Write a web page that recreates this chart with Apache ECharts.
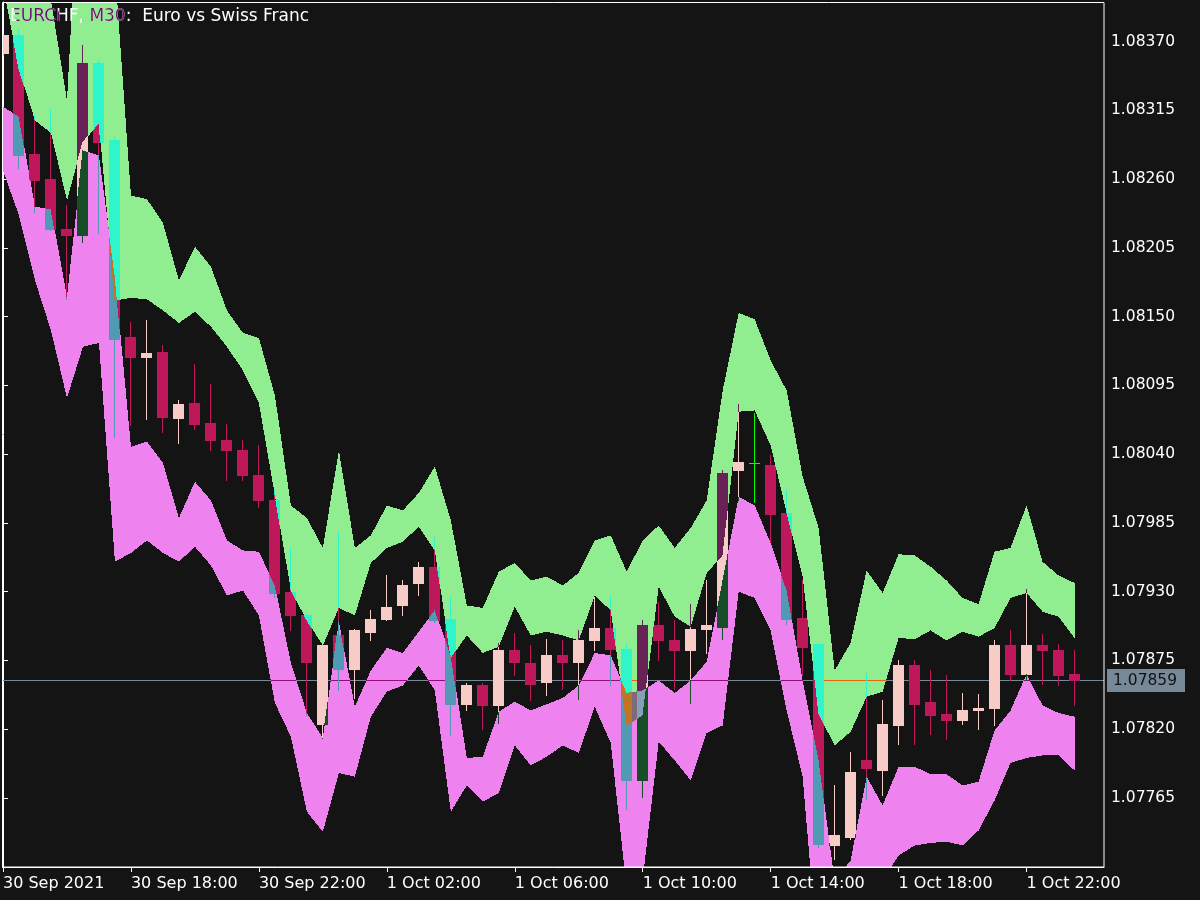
<!DOCTYPE html>
<html><head><meta charset="utf-8">
<script src="https://cdn.jsdelivr.net/npm/echarts/dist/echarts.min.js"></script>
<style>html,body{margin:0;padding:0;background:#141414}#c{width:1200px;height:900px}</style>
</head><body><div id="c"></div>
<script>
// ---- data ----
const titleText = 'EURCHF, M30:  Euro vs Swiss Franc';
const tickIndex = [0, 8, 16, 24, 32, 40, 48, 56, 64];
const tickLabels = ['30 Sep 2021','30 Sep 18:00','30 Sep 22:00','1 Oct 02:00','1 Oct 06:00','1 Oct 10:00','1 Oct 14:00','1 Oct 18:00','1 Oct 22:00'];
const priceTicks = [1.07765,1.07820,1.07875,1.07930,1.07985,1.08040,1.08095,1.08150,1.08205,1.08260,1.08315,1.08370];
const lastPrice = 1.07859;

const openP = [1.08361,1.08375,1.08280,1.08260,1.08220,1.08215,1.08353,1.08291,1.08134,1.08118,
 1.08122,1.08069,1.08081,1.08065,1.08051,1.08043,1.08023,1.08003,1.07930,1.07911,
 1.07824,1.07895,1.07868,1.07898,1.07908,1.07919,1.07937,1.07950,1.07908,1.07840,
 1.07855,1.07839,1.07883,1.07873,1.07858,1.07879,1.07874,1.07891,1.07901,1.07884,
 1.07779,1.07903,1.07891,1.07883,1.07900,1.07902,1.08027,1.08033,1.08031,1.07993,
 1.07909,1.07888,1.07727,1.07734,1.07795,1.07787,1.07823,1.07871,1.07842,1.07832,
 1.07827,1.07835,1.07837,1.07887,1.07864,1.07887,1.07883,1.07864];
const highP = [1.08376,1.08379,1.08311,1.08315,1.08239,1.08367,1.08355,1.08294,1.08146,1.08147,
 1.08127,1.08083,1.08112,1.08096,1.08064,1.08051,1.08047,1.08011,1.07966,1.07913,
 1.07887,1.07978,1.07900,1.07915,1.07943,1.07939,1.07954,1.07974,1.07926,1.07857,
 1.07857,1.07889,1.07897,1.07887,1.07892,1.07891,1.07899,1.07926,1.07927,1.07888,
 1.07907,1.07922,1.07907,1.07920,1.07939,1.08027,1.08080,1.08073,1.08039,1.08011,
 1.07939,1.07889,1.07775,1.07802,1.07865,1.07843,1.07875,1.07875,1.07867,1.07863,
 1.07849,1.07848,1.07891,1.07899,1.07932,1.07896,1.07888,1.07883];
const lowP = [1.08359,1.08269,1.08234,1.08219,1.08164,1.08210,1.08217,1.08054,1.08063,1.08068,
 1.08058,1.08049,1.08060,1.08043,1.08019,1.08019,1.07998,1.07926,1.07899,1.07831,
 1.07813,1.07851,1.07845,1.07891,1.07907,1.07911,1.07927,1.07906,1.07815,1.07835,
 1.07820,1.07825,1.07863,1.07843,1.07847,1.07852,1.07844,1.07883,1.07855,1.07756,
 1.07766,1.07875,1.07852,1.07841,1.07881,1.07892,1.08003,1.08002,1.07970,1.07904,
 1.07863,1.07726,1.07716,1.07732,1.07764,1.07767,1.07808,1.07808,1.07816,1.07812,
 1.07824,1.07820,1.07823,1.07859,1.07859,1.07856,1.07855,1.07839];
const closeP = [1.08375,1.08279,1.08259,1.08220,1.08215,1.08353,1.08290,1.08132,1.08118,1.08121,
 1.08070,1.08080,1.08064,1.08051,1.08043,1.08023,1.08003,1.07929,1.07911,1.07874,
 1.07887,1.07868,1.07899,1.07908,1.07918,1.07935,1.07950,1.07907,1.07840,1.07855,
 1.07839,1.07883,1.07874,1.07856,1.07879,1.07874,1.07891,1.07901,1.07884,1.07779,
 1.07903,1.07891,1.07883,1.07900,1.07903,1.08025,1.08034,1.08033,1.07992,1.07908,
 1.07886,1.07728,1.07735,1.07786,1.07789,1.07824,1.07871,1.07840,1.07831,1.07827,
 1.07835,1.07837,1.07887,1.07864,1.07887,1.07883,1.07863,1.07859];

// upper (green) band edges
const upperTop = [1.08459,1.08451,1.08435,1.08403,1.08323,1.08560,1.08499,1.08428,1.08247,1.08244,
 1.08225,1.08179,1.08206,1.08190,1.08155,1.08137,1.08133,1.08087,1.07999,1.07989,
 1.07965,1.08043,1.07965,1.07975,1.07999,1.07995,1.08009,1.08030,1.07987,1.07919,
 1.07917,1.07946,1.07953,1.07939,1.07942,1.07935,1.07945,1.07971,1.07975,1.07946,
 1.07971,1.07983,1.07965,1.07981,1.08003,1.08091,1.08153,1.08148,1.08115,1.08091,
 1.08022,1.07981,1.07867,1.07889,1.07947,1.07929,1.07960,1.07959,1.07950,1.07939,
 1.07925,1.07920,1.07962,1.07965,1.07999,1.07954,1.07943,1.07937];
const upperBot = [1.08415,1.08348,1.08307,1.08297,1.08243,1.08290,1.08304,1.08163,1.08165,1.08164,
 1.08155,1.08145,1.08154,1.08142,1.08126,1.08107,1.08081,1.08007,1.07931,1.07907,
 1.07887,1.07917,1.07911,1.07953,1.07965,1.07970,1.07982,1.07963,1.07877,1.07895,
 1.07881,1.07886,1.07918,1.07895,1.07898,1.07895,1.07891,1.07927,1.07915,1.07823,
 1.07831,1.07934,1.07910,1.07902,1.07945,1.07959,1.08074,1.08075,1.08047,1.07993,
 1.07942,1.07832,1.07807,1.07818,1.07846,1.07850,1.07893,1.07892,1.07899,1.07891,
 1.07898,1.07894,1.07901,1.07925,1.07929,1.07914,1.07910,1.07893];
// lower (violet) band edges
const lowerTop = [1.08318,1.08310,1.08238,1.08236,1.08166,1.08283,1.08279,1.08183,1.08046,1.08050,
 1.08033,1.07989,1.08018,1.08003,1.07971,1.07963,1.07962,1.07935,1.07873,1.07833,
 1.07813,1.07906,1.07838,1.07867,1.07885,1.07881,1.07898,1.07915,1.07879,1.07797,
 1.07798,1.07834,1.07842,1.07835,1.07840,1.07845,1.07855,1.07881,1.07879,1.07849,
 1.07851,1.07859,1.07849,1.07859,1.07874,1.07939,1.08006,1.07999,1.07969,1.07931,
 1.07859,1.07795,1.07699,1.07715,1.07782,1.07759,1.07790,1.07790,1.07784,1.07784,
 1.07775,1.07778,1.07819,1.07835,1.07864,1.07839,1.07833,1.07830];
const lowerBot = [1.08267,1.08231,1.08179,1.08139,1.08085,1.08126,1.08129,1.07954,1.07961,1.07971,
 1.07961,1.07954,1.07966,1.07951,1.07927,1.07931,1.07911,1.07841,1.07814,1.07754,
 1.07738,1.07785,1.07782,1.07830,1.07850,1.07855,1.07871,1.07851,1.07754,1.07775,
 1.07762,1.07769,1.07807,1.07791,1.07798,1.07807,1.07801,1.07838,1.07809,1.07692,
 1.07700,1.07810,1.07795,1.07779,1.07817,1.07823,1.07930,1.07925,1.07899,1.07835,
 1.07782,1.07630,1.07635,1.07643,1.07683,1.07699,1.07719,1.07727,1.07729,1.07730,
 1.07727,1.07739,1.07763,1.07793,1.07797,1.07799,1.07799,1.07787];

// ---- colours (mixed with XOR like the terminal does) ----
const GREEN = 0x90EE90, PINK = 0xEE82EE, BEAR = 0xBE185A, BULL = 0xF8CCC6, DOJI = 0x00FF00, PRICE = 0x778899, WHITE = 0xFFFFFF;
function hex(c){ return '#' + c.toString(16).padStart(6,'0'); }

function lerpArr(arr, xv){
  const n = arr.length - 1;
  if (xv < 0) return arr[0];
  if (xv > n) return null;
  const i0 = Math.min(Math.floor(xv), n - 1);
  const t = xv - i0;
  return arr[i0] * (1 - t) + arr[i0 + 1] * t;
}
function edgesAt(api, xv){
  const ut = lerpArr(upperTop, xv);
  if (ut === null) return null;
  const py = p => Math.round(api.coord([xv, p])[1]);
  return { ut: py(ut), ub: py(lerpArr(upperBot, xv)), lt: py(lerpArr(lowerTop, xv)), lb: py(lerpArr(lowerBot, xv)) };
}
function maskAt(e, y){
  if (!e) return 0;
  let c = 0;
  if (y >= e.ut && y < e.ub) c ^= GREEN;
  if (y >= e.lt && y < e.lb) c ^= PINK;
  return c;
}
function pushSegments(children, x, w, y0, y1, base, e, skipEmpty){
  if (y1 <= y0) return;
  const pts = [y0, y1];
  if (e) for (const v of [e.ut, e.ub, e.lt, e.lb]) if (v > y0 && v < y1) pts.push(v);
  pts.sort((a, b) => a - b);
  for (let k = 0; k < pts.length - 1; k++){
    const a = pts[k], b = pts[k + 1];
    if (b <= a) continue;
    const m = maskAt(e, a);
    if (skipEmpty && m === 0) continue;
    children.push({ type: 'rect', shape: { x: x, y: a, width: w, height: b - a }, style: { fill: hex(base ^ m) } });
  }
}

const segData = openP.map((_, i) => [i]);
const candleData = openP.map((o, i) => [i, o, highP[i], lowP[i], closeP[i]]);

const chart = echarts.init(document.getElementById('c'), null, { renderer: 'canvas' });
chart.setOption({
  animation: false,
  backgroundColor: '#141414',
  grid: { left: 2, top: 2, width: 1102, height: 865, show: false },
  xAxis: {
    type: 'value', min: -0.03125, max: 68.84375,
    axisLine: { show: true, lineStyle: { color: '#ffffff' } },
    axisTick: { show: true, customValues: tickIndex, length: 5, inside: false, lineStyle: { color: '#ffffff' } },
    axisLabel: { customValues: tickIndex, formatter: v => tickLabels[tickIndex.indexOf(Math.round(v))] || '',
      align: 'left', color: '#ffffff', fontSize: 16, fontFamily: 'DejaVu Sans', margin: 9 },
    splitLine: { show: false }
  },
  yAxis: {
    type: 'value', position: 'right', min: 1.0770976, max: 1.0840176,
    axisLine: { show: true, lineStyle: { color: '#ffffff' } },
    axisTick: { show: true, customValues: priceTicks, length: 5, lineStyle: { color: '#ffffff' } },
    axisLabel: { customValues: priceTicks, formatter: v => v.toFixed(5), color: '#ffffff',
      fontSize: 15.5, fontFamily: 'DejaVu Sans', margin: 7 },
    splitLine: { show: false }
  },
  graphic: [
    { type: 'rect', z: 100, silent: true, shape: { x: 2.5, y: 2.5, width: 1101.5, height: 864.5 },
      style: { fill: null, stroke: '#ffffff', lineWidth: 1 } }
  ],
  series: [
    {
      type: 'custom', name: 'bands', z: 1, clip: true, silent: true,
      data: segData,
      encode: { x: 0 },
      renderItem: function (params, api){
        const i = api.value(0);
        const cs = params.coordSys;
        const x0 = api.coord([i, lastPrice])[0];
        const seg = api.coord([i + 1, lastPrice])[0] - x0;
        const xEnd = i < upperTop.length - 1 ? x0 + seg : cs.x + cs.width;
        const yl = Math.floor(api.coord([i, lastPrice])[1]);
        const children = [];
        for (let px = Math.floor(x0); px < Math.floor(xEnd); px++){
          const xv = i + (px + 0.5 - x0) / seg;
          const e = edgesAt(api, xv);
          if (e){
            const y0 = Math.min(e.ut, e.lt), y1 = Math.max(e.ub, e.lb);
            pushSegments(children, px, 1, y0, y1, 0, e, true);
          }
          children.push({ type: 'rect', shape: { x: px, y: yl, width: 1, height: 1 }, style: { fill: hex(PRICE ^ maskAt(e, yl)) } });
        }
        return { type: 'group', children: children };
      }
    },
    {
      type: 'custom', name: 'candles', z: 2, clip: true, silent: true,
      data: candleData,
      encode: { x: 0, y: [1, 2, 3, 4] },
      renderItem: function (params, api){
        const i = api.value(0), o = api.value(1), h = api.value(2), l = api.value(3), c = api.value(4);
        const cx = api.coord([i, o])[0];
        const base = c > o ? BULL : (c < o ? BEAR : DOJI);
        const yH = Math.round(api.coord([i, h])[1]);
        const yL = Math.round(api.coord([i, l])[1]);
        const yT = Math.round(api.coord([i, Math.max(o, c)])[1]);
        const yB = Math.round(api.coord([i, Math.min(o, c)])[1]);
        const wx = Math.floor(cx);
        const children = [];
        pushSegments(children, wx, 1, yH, yL + 1, base, edgesAt(api, i), false);
        for (let k = -5; k <= 5; k++){
          const e = edgesAt(api, i + k / 16);
          pushSegments(children, wx + k, 1, yT, yB + 1, base, e, false);
        }
        return { type: 'group', children: children };
      }
    },
    {
      // title: white text, XOR-tinted where it crosses the green band
      type: 'custom', name: 'title', z: 10, clip: false, silent: true,
      data: [[0]],
      encode: { x: 0 },
      renderItem: function (params, api){
        const pts = [];
        for (let i = 0; i <= 12; i++){ const p = api.coord([i, upperTop[i]]); pts.push([p[0], p[1]]); }
        for (let i = 12; i >= 0; i--){ const p = api.coord([i, upperBot[i]]); pts.push([p[0], p[1]]); }
        const st = { text: titleText, fontSize: 17, fontFamily: 'DejaVu Sans', verticalAlign: 'middle' };
        return { type: 'group', children: [
          { type: 'text', x: 10, y: 17, style: Object.assign({ fill: '#ffffff' }, st) },
          { type: 'text', x: 10, y: 17, style: Object.assign({ fill: hex(WHITE ^ GREEN) }, st),
            clipPath: { type: 'polygon', shape: { points: pts } } }
        ]};
      }
    },
    {
      type: 'custom', name: 'priceTag', z: 5, clip: false, silent: true,
      data: [[closeP.length - 1, lastPrice]],
      encode: { x: 0, y: 1 },
      renderItem: function (params, api){
        const cs = params.coordSys;
        const y = Math.round(api.coord([api.value(0), api.value(1)])[1]);
        return { type: 'group', children: [
          { type: 'rect', shape: { x: cs.x + cs.width + 3, y: y - 11, width: 78, height: 23 }, style: { fill: '#778899' } },
          { type: 'text', style: { x: cs.x + cs.width + 9, y: y + 1, text: api.value(1).toFixed(5), fill: '#121212',
            fontSize: 15.5, fontFamily: 'DejaVu Sans', verticalAlign: 'middle' } }
        ]};
      }
    }
  ]
});
</script>
</body></html>
